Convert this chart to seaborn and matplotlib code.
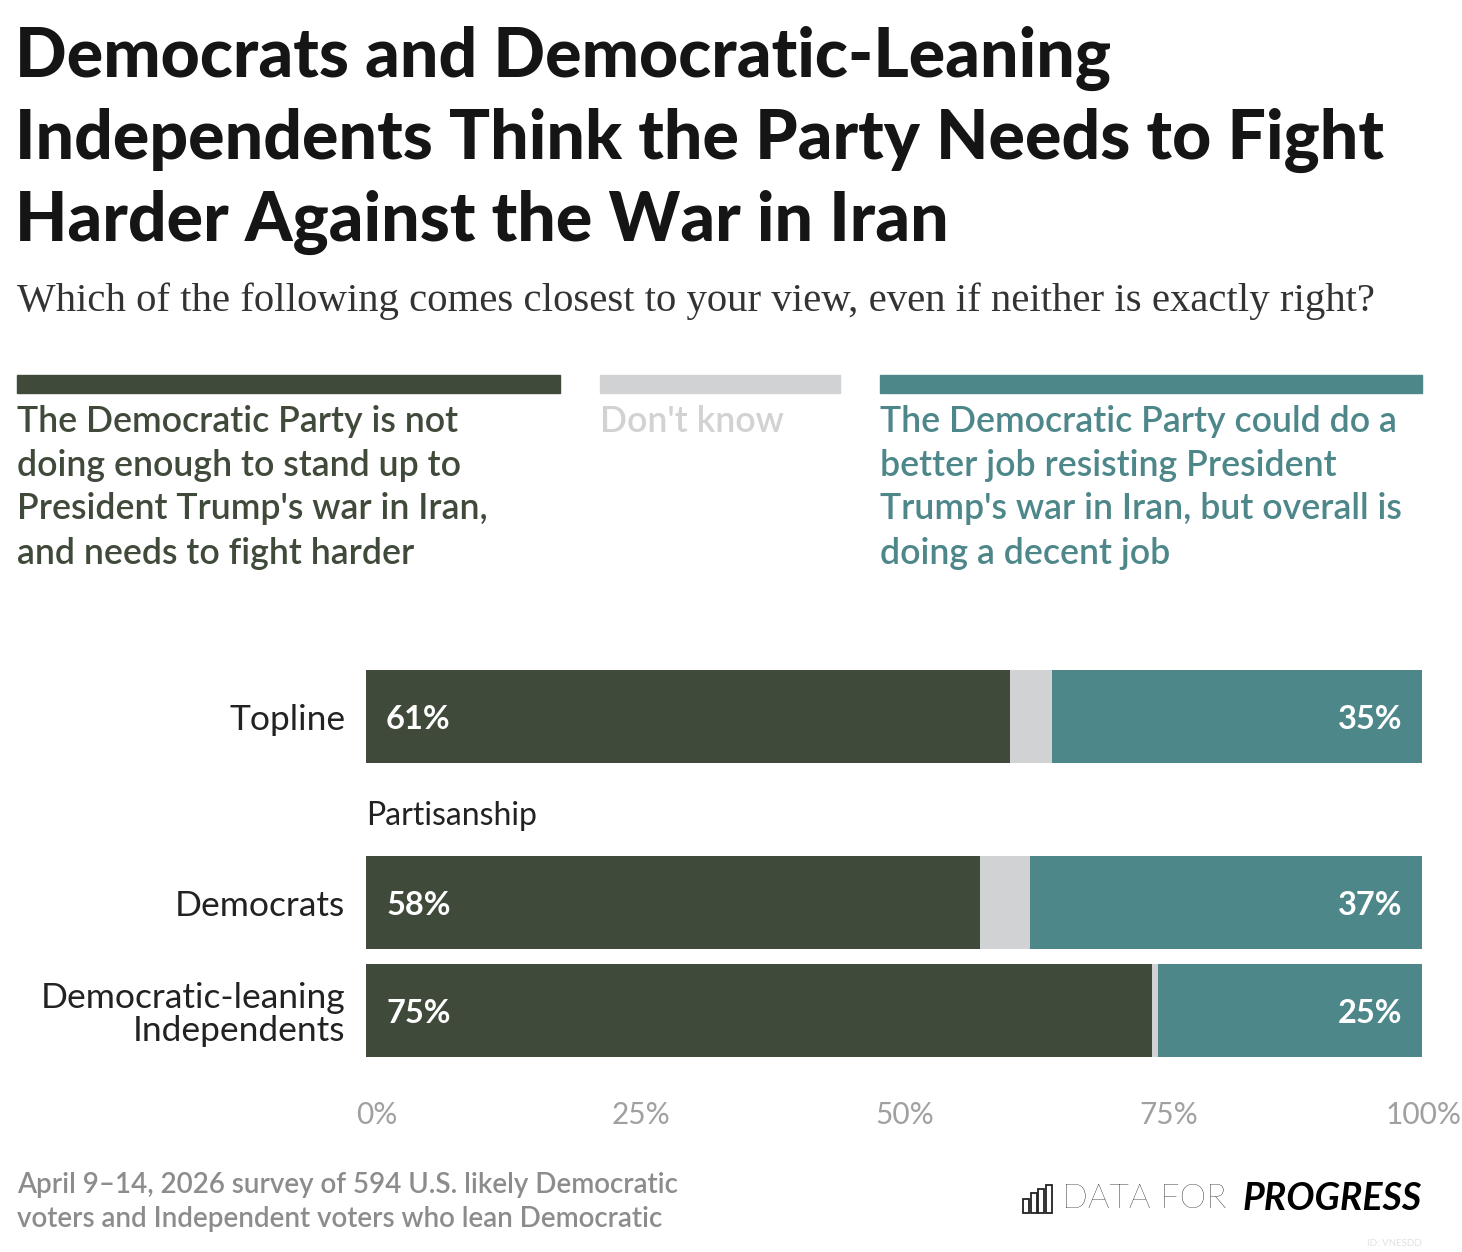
import pandas as pd
import matplotlib.pyplot as plt
import seaborn as sns
from matplotlib.patches import Rectangle
from matplotlib.transforms import ScaledTranslation

# data
groups = ['Topline', 'Democrats', 'Democratic-leaning\nIndependents']
fight_harder = [61.0, 58.1, 74.4]
dont_know = [4.0, 4.8, 0.6]
decent_job = [35.0, 37.1, 25.0]
fight_labels = ['61%', '58%', '75%']
decent_labels = ['35%', '37%', '25%']
xticks = [0, 25, 50, 75, 100]
xtick_labels = ['0%', '25%', '50%', '75%', '100%']

title_lines = ['Democrats and Democratic-Leaning',
               'Independents Think the Party Needs to Fight',
               'Harder Against the War in Iran']
subtitle = 'Which of the following comes closest to your view, even if neither is exactly right?'
legend_fight = ['The Democratic Party is not', 'doing enough to stand up to',
                "President Trump's war in Iran,", 'and needs to fight harder']
legend_dk = ["Don't know"]
legend_decent = ['The Democratic Party could do a', 'better job resisting President',
                 "Trump's war in Iran, but overall is", 'doing a decent job']
footer = ['April 9\u201314, 2026 survey of 594 U.S. likely Democratic',
          'voters and Independent voters who lean Democratic']

DARK = '#404a3b'
GRAY = '#d1d2d4'
TEAL = '#4e878a'

W, H = 1462, 1252
sns.set_theme(style='white')
plt.rcParams['font.family'] = ['Lato', 'DejaVu Sans']

fig = plt.figure(figsize=(W / 100, H / 100), dpi=100)


def fx(x):
    return x / W


def fy(y):
    return 1 - y / H


# layout: row centres in data units (Topline, gap for "Partisanship", then two rows)
row_pos = [0, 1.722, 2.722]
ax = fig.add_axes([fx(366), fy(1073), (1422 - 366) / W, (1073 - 662.5) / H])

df = pd.DataFrame({'group': groups, 'pos': row_pos, 'fight': fight_harder,
                   'dk': dont_know, 'decent': decent_job})
df['fight_dk'] = df['fight'] + df['dk']
df['total'] = df['fight_dk'] + df['decent']

for col, color in [('total', TEAL), ('fight_dk', GRAY), ('fight', DARK)]:
    sns.barplot(data=df, x=col, y='pos', orient='h', native_scale=True,
                color=color, saturation=1, width=0.86, errorbar=None,
                linewidth=0, ax=ax)

ax.set_xlim(0, 100)
ax.set_ylim(3.3, -0.5)
sns.despine(ax=ax, left=True, bottom=True)
ax.set_xlabel('')
ax.set_ylabel('')
ax.set_xticks(xticks)
ax.set_xticklabels(xtick_labels, color='#a0a0a0', fontsize=21.5)
ax.set_yticks(row_pos)
ax.set_yticklabels(groups, fontsize=25.5, color='#222222', linespacing=1.05)
ax.tick_params(axis='x', length=0, pad=20)
ax.tick_params(axis='y', length=0, pad=15)

# tick labels sit a little right of their ticks; the last one is kept inside the canvas
for k, lab in enumerate(ax.get_xticklabels()):
    shift = 2 if k == len(xticks) - 1 else 11
    lab.set_transform(lab.get_transform() + ScaledTranslation(shift / 100, 0, fig.dpi_scale_trans))

for i, row in df.iterrows():
    ax.text(1.9, row['pos'] + 0.03, fight_labels[i], color='white', fontsize=23.5,
            fontweight='bold', va='center', ha='left')
    ax.text(98.1, row['pos'] + 0.03, decent_labels[i], color='white', fontsize=23.5,
            fontweight='bold', va='center', ha='right')

ax.text(0, row_pos[1] - 0.8, 'Partisanship', fontsize=23, color='#222222',
        va='center', ha='left')

# title and subtitle
for i, line in enumerate(title_lines):
    fig.text(fx(15), fy(58 + 82 * i), line, fontsize=49, fontweight='black',
             color='#151515', va='center', ha='left')
fig.text(fx(17), fy(301), subtitle, fontsize=29.3, color='#333333',
         family=['Liberation Serif', 'DejaVu Serif'], va='center', ha='left')

# legend swatches and text
for (x0, x1, color, lines) in [(17, 560, DARK, legend_fight),
                               (600, 840, GRAY, legend_dk),
                               (880, 1422, TEAL, legend_decent)]:
    fig.patches.append(Rectangle((fx(x0), fy(393)), fx(x1) - fx(x0), 18 / H,
                                 transform=fig.transFigure, color=color))
    for j, line in enumerate(lines):
        fig.text(fx(x0), fy(421 + 44 * j), line, fontsize=25.7,
                 fontweight='semibold', color=color, va='center', ha='left')

# footer
for j, line in enumerate(footer):
    fig.text(fx(17), fy(1185 + 34 * j), line, fontsize=20,
             fontweight='semibold', color='#8c8c8c', va='center', ha='left')

# logo
prog = fig.text(fx(1422), fy(1199), 'PROGRESS', fontsize=27, fontweight='bold',
                style='italic', color='black', va='center', ha='right')
fig.canvas.draw()
bb = prog.get_window_extent()
fig.text(bb.x0 / W - 16 / W, fy(1199), 'DATA FOR', fontsize=24.5, fontweight='light',
         color='black', va='center', ha='right')
for k, h in enumerate([14, 20, 24, 28]):
    fig.patches.append(Rectangle((fx(1023 + 7.5 * k), fy(1213)), 6 / W, h / H,
                                 transform=fig.transFigure, fill=False,
                                 edgecolor='#222222', linewidth=1.3))
fig.text(fx(1422), fy(1243), 'ID: VNESDD', fontsize=7, color='#e2e2e2',
         va='center', ha='right')

fig.savefig('out.png', dpi=100)
